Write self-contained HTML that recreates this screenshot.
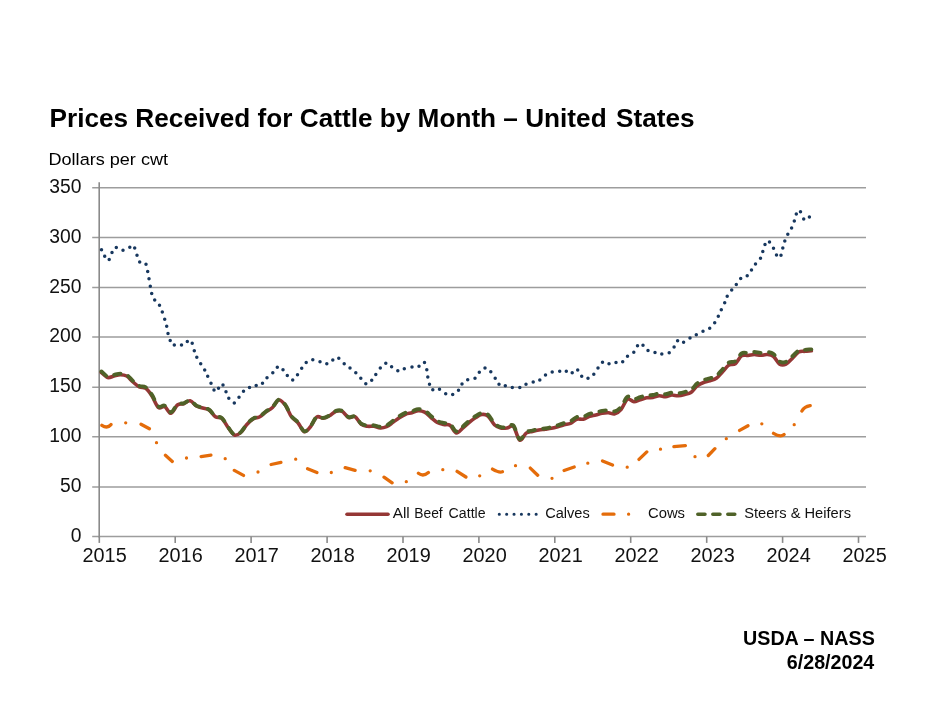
<!DOCTYPE html>
<html lang="en">
<head>
<meta charset="utf-8">
<title>Prices Received for Cattle by Month – United States</title>
<style>
html,body{margin:0;padding:0;background:#fff;}
body{width:936px;height:702px;overflow:hidden;font-family:"Liberation Sans",Arial,sans-serif;}
svg{display:block;}
text{font-family:"Liberation Sans",Arial,sans-serif;fill:#000;}
.tick text{font-size:19.3px;fill:#111;}
.legend text{font-size:15.3px;fill:#111;}
</style>
</head>
<body>
<svg width="936" height="702" viewBox="0 0 936 702">
<rect width="936" height="702" fill="#fff"/>
<text y="127" font-size="25.4" font-weight="bold" xml:space="preserve"><tspan x="49.5" textLength="564.4" lengthAdjust="spacingAndGlyphs">Prices Received for Cattle by Month – United </tspan><tspan x="616" textLength="78.6" lengthAdjust="spacingAndGlyphs">States</tspan></text>
<text x="48.5" y="165" font-size="17.2" fill="#111" textLength="119.5" lengthAdjust="spacingAndGlyphs">Dollars per cwt</text>
<g stroke="#9d9d9d" stroke-width="1.5" fill="none">
<path d="M92.2 536.6H866.0"/><path d="M92.2 486.9H866.0"/><path d="M92.2 436.8H866.0"/><path d="M92.2 387.2H866.0"/><path d="M92.2 337.0H866.0"/><path d="M92.2 287.5H866.0"/><path d="M92.2 237.5H866.0"/><path d="M92.2 187.8H866.0"/>
</g>
<g stroke="#8a8a8a" stroke-width="1.6" fill="none">
<path d="M99.2 182.2V537.4"/>
<path d="M99.3 536.6V542.9"/><path d="M175.2 536.6V542.9"/><path d="M251.1 536.6V542.9"/><path d="M327.1 536.6V542.9"/><path d="M403.0 536.6V542.9"/><path d="M478.9 536.6V542.9"/><path d="M554.8 536.6V542.9"/><path d="M630.7 536.6V542.9"/><path d="M706.7 536.6V542.9"/><path d="M782.6 536.6V542.9"/><path d="M858.5 536.6V542.9"/>
</g>
<g class="tick">
<text x="81.5" y="541.6" text-anchor="end">0</text><text x="81.5" y="491.9" text-anchor="end">50</text><text x="81.5" y="441.8" text-anchor="end">100</text><text x="81.5" y="392.2" text-anchor="end">150</text><text x="81.5" y="342.0" text-anchor="end">200</text><text x="81.5" y="292.5" text-anchor="end">250</text><text x="81.5" y="242.5" text-anchor="end">300</text><text x="81.5" y="192.8" text-anchor="end">350</text>
<text x="82.5" y="562.4" textLength="44.2" lengthAdjust="spacingAndGlyphs">2015</text><text x="158.5" y="562.4" textLength="44.2" lengthAdjust="spacingAndGlyphs">2016</text><text x="234.5" y="562.4" textLength="44.2" lengthAdjust="spacingAndGlyphs">2017</text><text x="310.5" y="562.4" textLength="44.2" lengthAdjust="spacingAndGlyphs">2018</text><text x="386.5" y="562.4" textLength="44.2" lengthAdjust="spacingAndGlyphs">2019</text><text x="462.5" y="562.4" textLength="44.2" lengthAdjust="spacingAndGlyphs">2020</text><text x="538.5" y="562.4" textLength="44.2" lengthAdjust="spacingAndGlyphs">2021</text><text x="614.5" y="562.4" textLength="44.2" lengthAdjust="spacingAndGlyphs">2022</text><text x="690.5" y="562.4" textLength="44.2" lengthAdjust="spacingAndGlyphs">2023</text><text x="766.5" y="562.4" textLength="44.2" lengthAdjust="spacingAndGlyphs">2024</text><text x="842.5" y="562.4" textLength="44.2" lengthAdjust="spacingAndGlyphs">2025</text>
</g>
<g fill="none" stroke-linejoin="round">
<path stroke="#953735" stroke-width="3.6" stroke-linecap="round" d="M101.3 372.5C102.4 373.3 105.5 376.9 107.6 377.5C109.8 378.1 111.9 376.5 114.0 376.0C116.1 375.5 118.2 374.7 120.3 374.7C122.4 374.7 124.5 374.8 126.7 376.0C128.8 377.2 130.9 380.2 133.0 382.0C135.1 383.8 137.2 385.9 139.3 387.0C141.5 388.1 143.6 386.8 145.7 388.3C147.8 389.8 149.9 392.8 152.0 396.0C154.1 399.2 156.2 405.7 158.4 407.5C160.5 409.3 162.6 405.7 164.7 406.7C166.8 407.7 168.9 413.6 171.0 413.3C173.2 413.0 175.3 406.6 177.4 405.0C179.5 403.4 181.6 404.4 183.7 403.7C185.8 403.0 187.9 400.4 190.1 400.8C192.2 401.2 194.3 404.8 196.4 406.0C198.5 407.2 200.6 407.3 202.7 408.0C204.9 408.7 207.0 408.6 209.1 410.0C211.2 411.4 213.3 415.3 215.4 416.7C217.5 418.1 219.6 416.5 221.8 418.3C223.9 420.1 226.0 424.7 228.1 427.5C230.2 430.3 232.3 434.2 234.4 435.0C236.6 435.8 238.7 434.3 240.8 432.5C242.9 430.7 245.0 426.5 247.1 424.2C249.2 421.9 251.3 419.9 253.5 418.7C255.6 417.4 257.7 417.9 259.8 416.7C261.9 415.5 264.0 413.2 266.1 411.7C268.3 410.2 270.4 409.4 272.5 407.5C274.6 405.6 276.7 400.4 278.8 400.0C280.9 399.6 283.0 402.2 285.2 405.0C287.3 407.8 289.4 413.8 291.5 416.7C293.6 419.6 295.7 420.0 297.8 422.5C300.0 425.0 302.1 431.0 304.2 431.7C306.3 432.4 308.4 429.1 310.5 426.7C312.6 424.2 314.7 418.4 316.9 417.0C319.0 415.6 321.1 418.5 323.2 418.3C325.3 418.1 327.4 417.0 329.5 415.8C331.7 414.6 333.8 412.1 335.9 411.3C338.0 410.6 340.1 410.3 342.2 411.3C344.3 412.3 346.4 416.6 348.6 417.5C350.7 418.4 352.8 415.6 354.9 416.7C357.0 417.8 359.1 422.6 361.2 424.2C363.4 425.8 365.5 425.9 367.6 426.3C369.7 426.7 371.8 426.0 373.9 426.3C376.0 426.6 378.1 427.9 380.3 428.0C382.4 428.1 384.5 427.6 386.6 426.7C388.7 425.8 390.8 423.9 392.9 422.4C395.1 420.9 397.2 419.2 399.3 417.8C401.4 416.4 403.5 415.0 405.6 414.2C407.7 413.4 409.8 413.4 412.0 412.8C414.1 412.2 416.2 410.9 418.3 410.8C420.4 410.7 422.5 411.1 424.6 412.2C426.8 413.3 428.9 415.8 431.0 417.5C433.1 419.2 435.2 421.3 437.3 422.5C439.4 423.7 441.5 424.0 443.7 424.5C445.8 425.0 447.9 423.9 450.0 425.3C452.1 426.7 454.2 432.5 456.3 433.0C458.5 433.5 460.6 429.9 462.7 428.2C464.8 426.4 466.9 424.2 469.0 422.5C471.1 420.8 473.2 419.1 475.4 417.8C477.5 416.5 479.6 414.8 481.7 414.5C483.8 414.2 485.9 414.4 488.0 416.1C490.2 417.8 492.3 422.7 494.4 424.7C496.5 426.7 498.6 427.4 500.7 428.0C502.8 428.6 504.9 428.3 507.1 428.0C509.2 427.7 511.3 424.4 513.4 426.4C515.5 428.4 517.6 439.1 519.7 440.2C521.9 441.3 524.0 434.6 526.1 433.1C528.2 431.6 530.3 431.9 532.4 431.4C534.5 430.9 536.6 430.4 538.8 430.0C540.9 429.6 543.0 429.5 545.1 429.2C547.2 428.9 549.3 428.7 551.4 428.3C553.6 427.9 555.7 427.3 557.8 426.7C559.9 426.1 562.0 425.3 564.1 424.7C566.2 424.1 568.3 424.2 570.5 423.3C572.6 422.4 574.7 419.9 576.8 419.2C578.9 418.5 581.0 419.7 583.1 419.2C585.3 418.7 587.4 417.0 589.5 416.3C591.6 415.6 593.7 415.5 595.8 415.0C597.9 414.5 600.0 413.7 602.2 413.3C604.3 412.9 606.4 412.7 608.5 412.8C610.6 412.9 612.7 414.4 614.8 413.8C617.0 413.2 619.1 411.6 621.2 409.2C623.3 406.8 625.4 400.4 627.5 399.2C629.6 397.9 631.7 401.6 633.9 401.7C636.0 401.8 638.1 400.3 640.2 399.7C642.3 399.1 644.4 398.2 646.5 397.8C648.7 397.4 650.8 397.8 652.9 397.5C655.0 397.2 657.1 395.9 659.2 395.8C661.3 395.7 663.4 396.8 665.6 396.7C667.7 396.6 669.8 395.1 671.9 395.0C674.0 394.9 676.1 395.9 678.2 395.8C680.4 395.7 682.5 395.1 684.6 394.5C686.7 393.9 688.8 393.9 690.9 392.5C693.0 391.1 695.1 387.5 697.3 385.8C699.4 384.1 701.5 383.3 703.6 382.5C705.7 381.7 707.8 381.5 709.9 380.8C712.1 380.1 714.2 379.8 716.3 378.3C718.4 376.8 720.5 373.9 722.6 371.7C724.7 369.5 726.8 366.3 729.0 365.0C731.1 363.7 733.2 365.2 735.3 363.7C737.4 362.2 739.5 357.2 741.6 355.8C743.8 354.4 745.9 355.7 748.0 355.5C750.1 355.3 752.2 354.5 754.3 354.5C756.4 354.5 758.5 355.3 760.7 355.3C762.8 355.3 764.9 354.3 767.0 354.5C769.1 354.7 771.2 354.7 773.3 356.3C775.5 357.9 777.6 362.9 779.7 364.2C781.8 365.5 783.9 365.2 786.0 364.2C788.1 363.2 790.2 360.3 792.4 358.3C794.5 356.3 796.6 353.2 798.7 352.0C800.8 350.8 802.9 351.5 805.0 351.3C807.2 351.1 810.3 350.9 811.4 350.8"/>
<path stroke="#17375e" stroke-width="3.5" stroke-linecap="round" d="M101.5 249.7h0M104.7 256.3h0M109.2 259.5h0M112.0 252.5h0M116.3 247.5h0M123.0 250.2h0M129.8 247.3h0M134.7 248.0h0M137.0 255.3h0M139.7 262.0h0M146.0 264.3h0M147.7 271.5h0M149.0 278.8h0M150.3 286.2h0M151.7 293.5h0M154.7 300.0h0M159.5 305.3h0M162.3 312.0h0M164.7 319.3h0M166.7 326.3h0M168.0 333.5h0M170.2 340.5h0M174.3 345.0h0M181.5 345.0h0M187.3 341.5h0M192.2 343.3h0M194.3 350.8h0M196.8 357.2h0M200.7 363.7h0M204.7 370.0h0M207.7 376.3h0M211.0 383.3h0M214.0 390.0h0M218.5 388.3h0M223.0 385.0h0M226.0 391.7h0M228.8 398.3h0M234.3 403.0h0M239.0 397.2h0M243.5 391.3h0M249.5 387.5h0M256.2 385.5h0M262.5 383.3h0M267.0 377.8h0M272.8 372.8h0M277.3 367.2h0M283.0 369.7h0M287.3 375.5h0M292.7 380.0h0M297.5 374.7h0M301.7 368.3h0M306.2 362.5h0M312.8 359.7h0M320.0 361.7h0M326.8 363.8h0M332.8 360.0h0M338.8 358.3h0M344.2 363.7h0M350.0 368.0h0M355.8 372.7h0M360.8 378.3h0M365.8 383.7h0M371.7 380.3h0M375.8 374.5h0M380.3 368.0h0M385.8 363.3h0M391.6 366.7h0M397.8 370.8h0M404.3 368.7h0M412.0 367.0h0M419.0 366.3h0M424.5 362.5h0M426.8 369.7h0M427.8 377.0h0M429.5 384.2h0M432.8 389.7h0M439.5 389.2h0M445.7 393.7h0M452.7 394.5h0M458.5 390.3h0M462.0 384.0h0M467.7 379.7h0M475.0 378.3h0M479.3 372.2h0M485.0 368.0h0M490.8 371.7h0M495.2 378.3h0M499.0 384.2h0M505.3 385.8h0M512.3 387.5h0M519.8 387.5h0M526.0 384.2h0M533.2 382.0h0M539.8 380.0h0M545.5 375.0h0M552.2 372.0h0M559.7 371.3h0M566.3 371.3h0M572.2 372.8h0M577.7 370.0h0M581.7 376.2h0M588.0 378.3h0M593.8 374.2h0M598.0 368.0h0M602.5 362.2h0M609.0 363.8h0M616.0 362.5h0M622.7 361.7h0M627.5 356.2h0M633.8 352.2h0M637.5 345.8h0M643.0 345.3h0M648.0 350.5h0M655.0 352.5h0M661.8 354.0h0M669.2 352.8h0M674.1 347.1h0M677.6 340.8h0M683.6 342.2h0M690.0 338.0h0M696.3 334.7h0M703.0 331.3h0M709.7 328.3h0M714.7 322.7h0M718.3 316.3h0M721.3 309.8h0M724.7 302.8h0M727.2 296.2h0M731.7 290.0h0M736.3 284.5h0M740.7 278.5h0M747.2 275.8h0M751.5 270.0h0M755.5 264.0h0M760.5 258.3h0M762.8 251.5h0M765.0 244.5h0M769.5 242.0h0M773.5 248.2h0M776.5 255.0h0M781.0 255.3h0M782.8 248.0h0M784.8 241.0h0M787.8 234.2h0M791.6 227.9h0M794.3 220.9h0M796.3 213.9h0M800.5 211.8h0M803.7 218.9h0M809.4 217.1h0"/>
<path stroke="#e46c0a" stroke-width="3.3" stroke-linecap="round" d="M101.9 425.3Q107.2 429.0 111.0 424.6M141.0 424.2L149.4 428.8M165.4 455.3L172.3 461.4M201.1 456.6L210.9 455.1M234.3 470.4L243.5 475.4M271.1 464.5L280.9 462.4M307.6 468.7L316.9 472.6M345.2 467.7L355.1 470.3M384.0 477.2L392.1 482.8M418.4 473.3Q423.2 477.1 428.4 472.6M457.1 471.3L465.9 477.0M492.5 469.1Q499.1 473.0 502.4 471.7M530.3 468.1L537.7 475.2M564.1 470.5L574.2 467.0M602.5 460.9L612.5 465.1M639.0 459.4L646.8 451.9M673.9 446.6L685.4 445.6M708.3 455.5L714.9 448.7M739.6 430.4L748.0 425.7M773.5 433.3Q780.6 437.7 784.1 434.5M801.9 411.0Q804.0 406.7 810.2 405.6M125.7 422.8h0.01M156.5 442.7h0.01M186.5 458.0h0.01M225.2 458.7h0.01M258.0 472.0h0.01M295.7 459.2h0.01M331.3 472.5h0.01M370.2 470.8h0.01M406.3 481.7h0.01M442.8 469.7h0.01M479.7 475.8h0.01M515.5 465.7h0.01M552.0 478.3h0.01M587.8 463.2h0.01M627.2 467.2h0.01M660.5 449.2h0.01M695.0 456.7h0.01M726.3 438.7h0.01M761.8 423.8h0.01M794.2 424.7h0.01"/>
<path stroke="#4f6228" stroke-width="3.8" stroke-linecap="round" stroke-dasharray="6.5 8.4" d="M101.3 371.4C102.4 372.2 105.5 375.8 107.6 376.4C109.8 377.0 111.9 375.4 114.0 374.9C116.1 374.4 118.2 373.6 120.3 373.6C122.4 373.6 124.5 373.7 126.7 374.9C128.8 376.1 130.9 379.1 133.0 380.9C135.1 382.7 137.2 384.8 139.3 385.9C141.5 386.9 143.6 385.7 145.7 387.2C147.8 388.7 149.9 391.7 152.0 394.9C154.1 398.1 156.2 404.6 158.4 406.4C160.5 408.2 162.6 404.6 164.7 405.6C166.8 406.6 168.9 412.4 171.0 412.2C173.2 412.0 175.3 405.7 177.4 404.2C179.5 402.8 181.6 403.9 183.7 403.3C185.8 402.7 187.9 400.0 190.1 400.4C192.2 400.8 194.3 404.4 196.4 405.6C198.5 406.8 200.6 406.9 202.7 407.6C204.9 408.3 207.0 408.2 209.1 409.6C211.2 411.1 213.3 414.9 215.4 416.3C217.5 417.7 219.6 416.1 221.8 417.9C223.9 419.7 226.0 424.3 228.1 427.1C230.2 429.9 232.3 433.8 234.4 434.6C236.6 435.4 238.7 433.9 240.8 432.1C242.9 430.3 245.0 426.1 247.1 423.8C249.2 421.5 251.3 419.6 253.5 418.3C255.6 417.1 257.7 417.5 259.8 416.3C261.9 415.1 264.0 412.8 266.1 411.3C268.3 409.8 270.4 409.1 272.5 407.1C274.6 405.2 276.7 400.0 278.8 399.6C280.9 399.2 283.0 401.8 285.2 404.6C287.3 407.4 289.4 413.4 291.5 416.3C293.6 419.2 295.7 419.6 297.8 422.1C300.0 424.6 302.1 430.6 304.2 431.3C306.3 432.0 308.4 428.8 310.5 426.3C312.6 423.9 314.7 418.0 316.9 416.6C319.0 415.2 321.1 418.1 323.2 417.9C325.3 417.7 327.4 416.6 329.5 415.4C331.7 414.2 333.8 411.6 335.9 410.9C338.0 410.1 340.1 409.9 342.2 410.9C344.3 411.9 346.4 416.2 348.6 417.1C350.7 418.0 352.8 415.2 354.9 416.3C357.0 417.4 359.1 422.1 361.2 423.6C363.4 425.1 365.5 425.2 367.6 425.5C369.7 425.8 371.8 425.1 373.9 425.3C376.0 425.5 378.1 426.8 380.3 426.8C382.4 426.8 384.5 426.3 386.6 425.3C388.7 424.3 390.8 422.3 392.9 420.8C395.1 419.3 397.2 417.6 399.3 416.2C401.4 414.8 403.5 413.4 405.6 412.6C407.7 411.8 409.8 411.8 412.0 411.2C414.1 410.6 416.2 409.3 418.3 409.2C420.4 409.1 422.5 409.5 424.6 410.6C426.8 411.7 428.9 414.2 431.0 415.9C433.1 417.6 435.2 419.7 437.3 420.9C439.4 422.1 441.5 422.4 443.7 422.9C445.8 423.4 447.9 422.3 450.0 423.7C452.1 425.1 454.2 430.9 456.3 431.4C458.5 431.9 460.6 428.4 462.7 426.6C464.8 424.9 466.9 422.6 469.0 420.9C471.1 419.2 473.2 417.5 475.4 416.2C477.5 414.9 479.6 413.2 481.7 412.9C483.8 412.6 485.9 412.7 488.0 414.5C490.2 416.3 492.3 421.3 494.4 423.4C496.5 425.6 498.6 426.5 500.7 427.1C502.8 427.7 504.9 427.4 507.1 427.1C509.2 426.8 511.3 423.5 513.4 425.5C515.5 427.5 517.6 438.2 519.7 439.3C521.9 440.4 524.0 433.7 526.1 432.2C528.2 430.7 530.3 431.0 532.4 430.5C534.5 430.0 536.6 429.5 538.8 429.1C540.9 428.7 543.0 428.6 545.1 428.3C547.2 428.0 549.3 427.6 551.4 427.1C553.6 426.6 555.7 426.0 557.8 425.3C559.9 424.6 562.0 423.7 564.1 423.0C566.2 422.3 568.3 422.3 570.5 421.3C572.6 420.3 574.7 417.7 576.8 417.0C578.9 416.2 581.0 417.2 583.1 416.7C585.3 416.2 587.4 414.5 589.5 413.8C591.6 413.1 593.7 413.0 595.8 412.5C597.9 412.0 600.0 411.2 602.2 410.8C604.3 410.4 606.4 410.2 608.5 410.3C610.6 410.4 612.7 411.9 614.8 411.3C617.0 410.7 619.1 409.1 621.2 406.7C623.3 404.3 625.4 397.9 627.5 396.7C629.6 395.4 631.7 399.1 633.9 399.2C636.0 399.3 638.1 397.8 640.2 397.2C642.3 396.6 644.4 395.7 646.5 395.3C648.7 394.9 650.8 395.3 652.9 395.0C655.0 394.7 657.1 393.4 659.2 393.3C661.3 393.2 663.4 394.3 665.6 394.2C667.7 394.1 669.8 392.6 671.9 392.5C674.0 392.4 676.1 393.4 678.2 393.3C680.4 393.2 682.5 392.6 684.6 392.0C686.7 391.4 688.8 391.4 690.9 390.0C693.0 388.6 695.1 385.0 697.3 383.3C699.4 381.6 701.5 380.8 703.6 380.0C705.7 379.2 707.8 379.0 709.9 378.3C712.1 377.6 714.2 377.3 716.3 375.8C718.4 374.3 720.5 371.4 722.6 369.2C724.7 367.0 726.8 363.8 729.0 362.5C731.1 361.2 733.2 362.7 735.3 361.2C737.4 359.7 739.5 354.7 741.6 353.3C743.8 351.9 745.9 353.2 748.0 353.0C750.1 352.8 752.2 352.0 754.3 352.0C756.4 352.0 758.5 352.8 760.7 352.8C762.8 352.8 764.9 351.8 767.0 352.0C769.1 352.2 771.2 352.2 773.3 353.8C775.5 355.4 777.6 360.4 779.7 361.7C781.8 363.0 783.9 362.6 786.0 361.7C788.1 360.8 790.2 358.2 792.4 356.3C794.5 354.4 796.6 351.6 798.7 350.5C800.8 349.4 802.9 350.0 805.0 349.8C807.2 349.6 810.3 349.4 811.4 349.3"/>
</g>
<g class="legend" fill="none">
<path stroke="#953735" stroke-width="3.6" stroke-linecap="round" d="M347 514.2H388"/>
<text y="518"><tspan x="392.7" textLength="17" lengthAdjust="spacingAndGlyphs">All</tspan> <tspan x="414.2" textLength="28.5" lengthAdjust="spacingAndGlyphs">Beef</tspan> <tspan x="448.6" textLength="37" lengthAdjust="spacingAndGlyphs">Cattle</tspan></text>
<path stroke="#17375e" stroke-width="3.1" stroke-linecap="round" stroke-dasharray="0.01 7.36" d="M499.3 514.3H540"/>
<text x="545.2" y="518" textLength="44.6" lengthAdjust="spacingAndGlyphs">Calves</text>
<path stroke="#e46c0a" stroke-width="3.3" stroke-linecap="round" d="M603 514.2H614M628.6 514.2h0.01"/>
<text x="648" y="518" textLength="37" lengthAdjust="spacingAndGlyphs">Cows</text>
<path stroke="#4f6228" stroke-width="3.5" stroke-linecap="round" d="M697.8 514.2H705M712.8 514.2H720M727.8 514.2H734.8"/>
<text x="744.2" y="518" textLength="106.8" lengthAdjust="spacingAndGlyphs">Steers &amp; Heifers</text>
</g>
<text x="743" y="644.8" font-size="19.3" font-weight="bold" textLength="131.8" lengthAdjust="spacingAndGlyphs">USDA – NASS</text>
<text x="786.8" y="668.8" font-size="19.3" font-weight="bold" textLength="87.5" lengthAdjust="spacingAndGlyphs">6/28/2024</text>
</svg>
</body>
</html>
